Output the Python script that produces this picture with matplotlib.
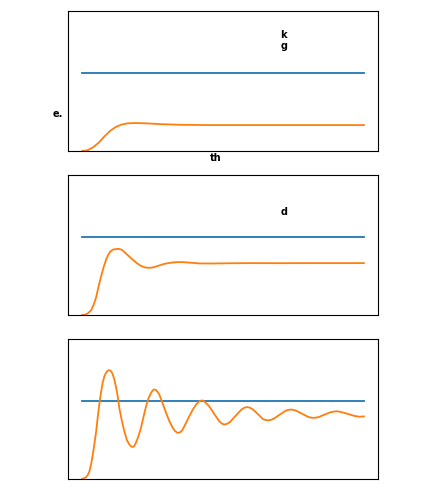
import matplotlib.pyplot as plt

# reference (blue) line
t_ref = [0, 10]
ref = [1, 1]

# response curves
t1 = [0, 0.2, 0.4, 0.6, 0.8, 1.0, 1.2, 1.4, 1.6, 1.9, 2.3, 2.8, 3.5, 4.5, 6, 8, 10]
y1 = [0, 0.01, 0.05, 0.11, 0.19, 0.26, 0.31, 0.34, 0.355, 0.36, 0.355, 0.345,
      0.337, 0.333, 0.333, 0.333, 0.333]

t2 = [0, 0.1, 0.2, 0.32, 0.41, 0.5, 0.58, 0.67, 0.76, 0.85, 0.93, 1.0, 1.09,
      1.2, 1.3, 1.4, 1.5, 1.65, 1.8, 1.95, 2.09, 2.25, 2.39, 2.55, 2.74, 2.95,
      3.22, 3.4, 3.57, 3.85, 4.16, 4.6, 5.2, 6, 7, 8, 9, 10]
y2 = [0, 0.003, 0.02, 0.06, 0.13, 0.23, 0.36, 0.49, 0.61, 0.71, 0.775, 0.815,
      0.84, 0.848, 0.85, 0.84, 0.81, 0.76, 0.71, 0.665, 0.63, 0.61, 0.606,
      0.615, 0.637, 0.66, 0.676, 0.68, 0.68, 0.672, 0.663, 0.662, 0.665,
      0.667, 0.666, 0.667, 0.667, 0.667]

t3 = [0, 0.13, 0.2, 0.26, 0.32, 0.38, 0.44, 0.5, 0.55, 0.61, 0.67, 0.73, 0.79,
      0.85, 0.91, 0.97, 1.03, 1.09, 1.15, 1.21, 1.27, 1.32, 1.41, 1.5, 1.59,
      1.68, 1.74, 1.8, 1.86, 1.91, 2.0, 2.09, 2.18, 2.27, 2.36, 2.45, 2.51,
      2.56, 2.62, 2.68, 2.74, 2.86, 2.98, 3.1, 3.22, 3.3, 3.39, 3.48, 3.56,
      3.63, 3.78, 3.93, 4.05, 4.16, 4.22, 4.28, 4.36, 4.51, 4.7, 4.87, 4.96,
      5.05, 5.15, 5.25, 5.45, 5.65, 5.75, 5.85, 5.95, 6.05, 6.25, 6.42, 6.51,
      6.6, 6.7, 6.8, 7.0, 7.2, 7.3, 7.4, 7.5, 7.6, 7.8, 8.0, 8.1, 8.2, 8.3,
      8.4, 8.6, 8.8, 8.92, 9.03, 9.14, 9.25, 9.45, 9.65, 9.85, 10]
y3 = [0, 0.02, 0.05, 0.098, 0.19, 0.313, 0.46, 0.613, 0.78, 0.957, 1.11,
      1.237, 1.32, 1.366, 1.393, 1.4, 1.385, 1.344, 1.27, 1.173, 1.05, 0.915,
      0.75, 0.613, 0.5, 0.442, 0.418, 0.412, 0.428, 0.464, 0.55, 0.657, 0.8,
      0.936, 1.04, 1.108, 1.14, 1.151, 1.145, 1.12, 1.086, 0.97, 0.851, 0.74,
      0.657, 0.615, 0.593, 0.6, 0.63, 0.678, 0.79, 0.893, 0.96, 1.0, 1.008,
      1.009, 0.99, 0.936, 0.83, 0.742, 0.712, 0.70, 0.71, 0.733, 0.8125,
      0.892, 0.915, 0.925, 0.918, 0.897, 0.831, 0.769, 0.758, 0.755, 0.76,
      0.775, 0.824, 0.873, 0.887, 0.893, 0.889, 0.877, 0.84, 0.802, 0.79,
      0.786, 0.789, 0.797, 0.828, 0.856, 0.866, 0.87, 0.866, 0.855, 0.835,
      0.812, 0.80, 0.805]

blue = '#1f77b4'
orange = '#ff7f0e'

fig = plt.figure(figsize=(4.32, 5.04), dpi=100)
bottoms = [0.7004, 0.375, 0.0496]
curves = [(t1, y1), (t2, y2), (t3, y3)]
axes = []
for b, (t, y) in zip(bottoms, curves):
    ax = fig.add_axes([0.1574, b, 0.7176, 0.2778])
    ax.plot(t_ref, ref, color=blue, lw=1.3)
    ax.plot(t, y, color=orange, lw=1.3)
    ax.set_xlim(-0.5, 10.5)
    ax.set_ylim(0, 1.8)
    ax.set_xticks([])
    ax.set_yticks([])
    for s in ax.spines.values():
        s.set_linewidth(0.8)
    axes.append(ax)

ax1, ax2, ax3 = axes

# small labels
ax1.text(7.16, 1.49, 'k', fontsize=7, fontweight='bold', ha='center', va='center')
ax1.text(7.16, 1.35, 'g', fontsize=7, fontweight='bold', ha='center', va='center')
ax2.text(7.16, 1.33, 'd', fontsize=7, fontweight='bold', ha='center', va='center')
ax1.text(-0.032, 0.264, 'e.', fontsize=7, fontweight='bold', ha='center', va='center',
         transform=ax1.transAxes)
ax1.text(0.476, -0.05, 'th', fontsize=7, fontweight='bold', ha='center', va='center',
         transform=ax1.transAxes)

fig.savefig('out.png', dpi=100)
